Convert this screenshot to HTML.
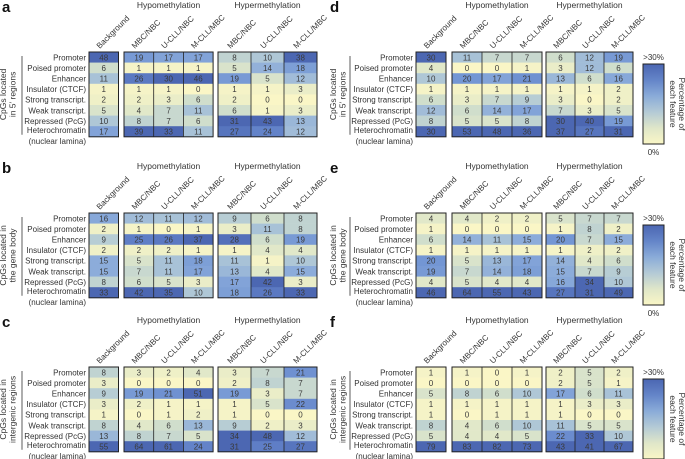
<!DOCTYPE html>
<html><head><meta charset="utf-8"><style>
body{margin:0;background:#fff}
svg{display:block;font-family:"Liberation Sans",Arial,sans-serif}
</style></head><body>
<svg id="fig" width="685" height="459" viewBox="0 0 685 459" xmlns="http://www.w3.org/2000/svg">
<defs><linearGradient id="cbar" x1="0" y1="1" x2="0" y2="0">
<stop offset="0" stop-color="#faf6c6"/><stop offset="0.2" stop-color="#dfe6c9"/><stop offset="0.4" stop-color="#b4cad6"/><stop offset="0.6" stop-color="#8aabd8"/><stop offset="0.8" stop-color="#6485c8"/><stop offset="1" stop-color="#4b66b2"/></linearGradient></defs>
</svg>
<script>
const rowLabels=["Promoter","Poised promoter","Enhancer","Insulator (CTCF)","Strong transcript.","Weak transcript.","Repressed (PcG)","Heterochromatin"];
const colLabels=["Background","MBC/NBC","U-CLL/NBC","M-CLL/MBC","MBC/NBC","U-CLL/NBC","M-CLL/MBC"];
// columns: Background, Hypo x3, Hyper x3
const valuesA=[[48,19,17,17,8,10,38],[6,1,1,1,5,14,18],[11,26,30,46,19,5,12],[1,1,1,0,1,1,3],[2,2,3,6,2,0,0],[5,4,7,11,6,1,3],[10,8,7,6,31,43,13],[17,39,33,11,27,24,12]];
const valuesB=[[16,12,11,12,9,6,8],[2,1,0,1,3,11,8],[9,25,26,37,28,6,19],[2,2,2,1,1,4,4],[15,5,11,18,11,1,10],[15,7,11,17,13,4,15],[8,6,5,3,17,42,3],[33,42,35,10,18,26,33]];
const valuesC=[[8,3,2,4,3,7,21],[3,0,0,0,2,8,7],[9,19,21,51,19,3,7],[3,2,1,1,1,5,22],[1,0,1,2,1,0,0],[8,4,6,13,9,2,3],[13,8,7,5,34,48,12],[55,64,61,24,31,25,27]];
const valuesD=[[30,11,7,7,6,12,19],[4,0,0,1,3,12,6],[10,20,17,21,13,6,16],[1,1,1,1,1,1,2],[6,3,7,9,3,0,2],[12,6,14,17,7,3,5],[8,5,5,8,30,40,19],[30,53,48,36,37,27,31]];
const valuesE=[[4,4,2,2,5,7,7],[1,0,0,0,1,8,2],[6,14,11,15,20,7,15],[1,1,1,1,1,2,2],[20,5,13,17,14,4,6],[19,7,14,18,15,7,9],[4,5,4,4,16,34,10],[46,64,55,43,27,31,49]];
const valuesF=[[1,1,0,1,2,5,2],[0,0,0,0,2,5,1],[5,8,6,10,17,6,11],[1,1,1,1,1,3,3],[1,0,1,1,1,0,0],[8,4,6,10,11,5,5],[5,4,4,5,22,33,10],[79,83,82,73,43,41,67]];

const NS="http://www.w3.org/2000/svg";
const svg=document.getElementById('fig');
function mk(tag,attrs,parent){const e=document.createElementNS(NS,tag);for(const k in attrs)e.setAttribute(k,attrs[k]);(parent||svg).appendChild(e);return e;}
const stops=[[0,[250,246,198]],[3,[234,237,200]],[6,[208,222,204]],[10,[175,199,214]],[15,[140,172,218]],[20,[115,150,212]],[25,[95,126,198]],[30,[76,103,178]]];
function color(v){v=Math.min(v,30);for(let i=1;i<stops.length;i++){if(v<=stops[i][0]){const a=stops[i-1],b=stops[i];const t=(v-a[0])/(b[0]-a[0]);const c=a[1].map((x,j)=>Math.round(x+(b[1][j]-x)*t));return `rgb(${c})`;}}return 'rgb(76,103,178)';}
const RH=10.6;
function panel(letter,vals,top,geo,ylab,bar){
  const g=mk('g',{});
  
  
  const pl=mk('text',{x:geo.lx,y:top-40,'font-size':15,'font-weight':'bold',fill:'#111'},g);pl.textContent=letter;
  
  
  const cols=[];
  cols.push([geo.bg,geo.bgw]);
  for(let i=0;i<3;i++)cols.push([geo.hypo+i*geo.hw,geo.hw]);
  for(let i=0;i<3;i++)cols.push([geo.hyper+i*geo.pw,geo.pw]);
  const h1=mk('text',{x:geo.hypo+1.5*geo.hw,y:top-44,'font-size':8.5,'text-anchor':'middle',fill:'#333'},g);h1.textContent='Hypomethylation';
  
  
  const h2=mk('text',{x:geo.hyper+1.5*geo.pw,y:top-44,'font-size':8.5,'text-anchor':'middle',fill:'#333'},g);h2.textContent='Hypermethylation';
  
  
  cols.forEach((c,ci)=>{
    const cx=c[0]+c[1]/2-4, cy=top-3;
    const t=mk('text',{x:cx,y:cy,'font-size':8,fill:'#333',transform:`rotate(-45 ${cx} ${cy})`},g);t.textContent=colLabels[ci];
    
    
  });
  vals.forEach((row,ri)=>{
    const y=top+ri*RH;
    row.forEach((v,ci)=>{
      const r=mk('rect',{x:cols[ci][0],y:y,width:cols[ci][1]+0.3,height:RH+0.3,fill:color(v)},g);
      
      
      const t=mk('text',{x:cols[ci][0]+cols[ci][1]/2,y:y+RH/2+3,'font-size':8,'text-anchor':'middle',fill:'#3a3a3a'},g);t.textContent=v;
      
      
    });
    const l=mk('text',{x:geo.bg-3,y:y+RH/2+3+(ri===7?-1.5:0),'font-size':8,'text-anchor':'end',fill:'#333'},g);l.textContent=rowLabels[ri];
    
    
  });
  const nl=mk('text',{x:geo.bg-3,y:top+8*RH+7,'font-size':8,'text-anchor':'end',fill:'#333'},g);nl.textContent='(nuclear lamina)';
  
  
  const H=8*RH;
  [[geo.bg,geo.bgw,1],[geo.hypo,geo.hw,3],[geo.hyper,geo.pw,3]].forEach(b=>{
    mk('rect',{x:b[0],y:top,width:b[1]*b[2],height:H,fill:'none',stroke:'#222','stroke-width':1},g);
    for(let i=1;i<b[2];i++)mk('line',{x1:b[0]+i*b[1],x2:b[0]+i*b[1],y1:top,y2:top+H,stroke:'#222','stroke-width':0.8},g);
  });
  mk('line',{x1:geo.br,x2:geo.br,y1:top+4,y2:top+H-2,stroke:'#333','stroke-width':0.8},g);
  const cy=top+H/2;
  ylab.forEach((s,i)=>{const x=geo.yl+i*9.5;const t=mk('text',{x:x,y:cy,'font-size':8.5,'text-anchor':'middle',fill:'#333',transform:`rotate(-90 ${x} ${cy})`},g);t.textContent=s;
    
    });
  if(bar){
    const cb=mk('rect',{x:643,y:top+12,width:21,height:80,fill:'url(#cbar)',stroke:'#222','stroke-width':1},g);
    
    
    const a=mk('text',{x:653.5,y:top+8,'font-size':8,'text-anchor':'middle',fill:'#333'},g);a.textContent='>30%';
    
    
    const b=mk('text',{x:653.5,y:top+103,'font-size':8,'text-anchor':'middle',fill:'#333'},g);b.textContent='0%';
    
    
    ['Percentage of','each feature'].forEach((s,i)=>{const x=679-i*9,y=top+52;const t=mk('text',{x:x,y:y,'font-size':8.5,'text-anchor':'middle',fill:'#333',transform:`rotate(90 ${x} ${y})`},g);t.textContent=s;
      
      });
  }
}
const L={lx:2,bg:89,bgw:29.5,hypo:124,hw:29.7,hyper:218,pw:33,br:22,yl:6};
const R={lx:330,bg:416,bgw:30,hypo:452,hw:30,hyper:546,pw:29,br:350,yl:336};
panel('a',valuesA,52,L,["CpGs located","in 5′ regions"],false);
panel('b',valuesB,213,L,["CpGs located in","the gene body"],false);
panel('c',valuesC,367,L,["CpGs located in","intergenic regions"],false);
panel('d',valuesD,52,R,["CpGs located","in 5′ regions"],true);
panel('e',valuesE,213,R,["CpGs located in","the gene body"],true);
panel('f',valuesF,367,R,["CpGs located in","intergenic regions"],true);
</script>
</body></html>
